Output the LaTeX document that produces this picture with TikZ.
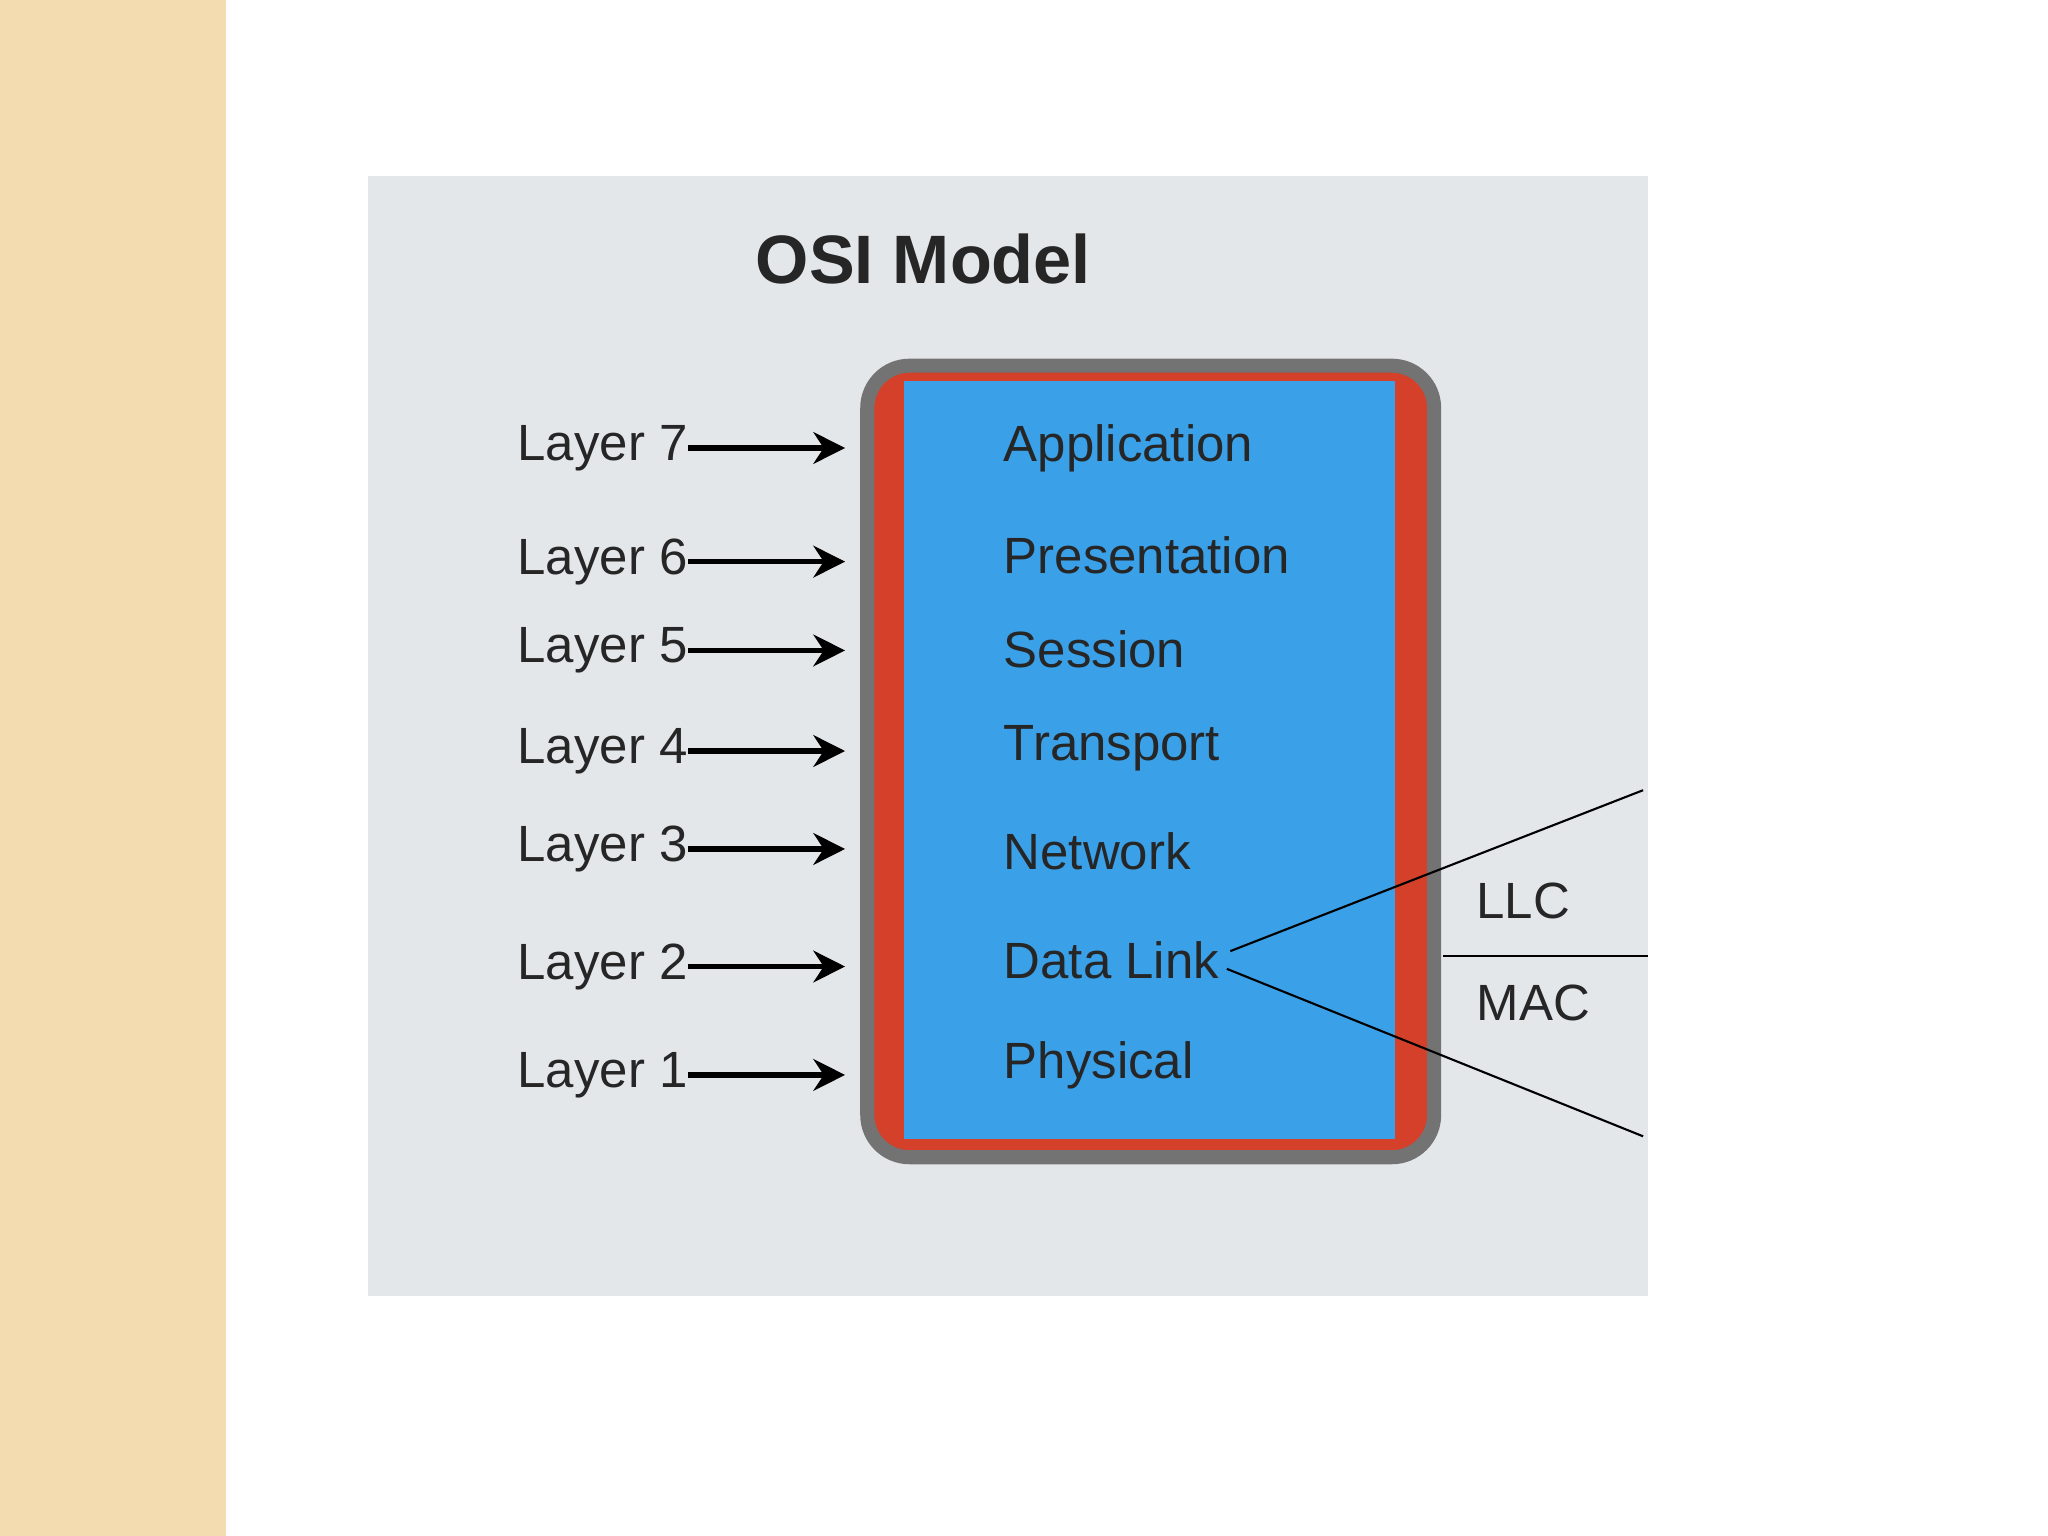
\documentclass[tikz,border=0pt]{standalone}
\usepackage{fontspec}
\setmainfont{Liberation Sans}
\usetikzlibrary{arrows.meta}
\definecolor{beige}{HTML}{F3DDB0}
\definecolor{panel}{HTML}{E4E7EA}
\definecolor{layblue}{HTML}{3AA0E8}
\definecolor{layred}{HTML}{D4402A}
\tikzset{
  lbl/.style={font=\fontsize{14.5}{17}\selectfont, text=black!85, anchor=east, inner sep=0pt},
  lay/.style={font=\fontsize{14.5}{17}\selectfont, text=black!85, anchor=west, inner sep=0pt},
  arr/.style={-{Stealth[length=9pt,width=9pt]}, line width=1.6pt},
  thin/.style={line width=0.6pt}
}
\begin{document}
\begin{tikzpicture}[x=0.013061cm,y=-0.013061cm]
\useasboundingbox (0,0) rectangle (1568,1176);
\fill[white] (0,0) rectangle (1568,1176);
\fill[beige] (0,0) rectangle (173,1176);
\fill[panel] (282,135) rectangle (1262,992);
\node[font=\bfseries\fontsize{19.5}{22}\selectfont, text=black!85] (title) at (707,198) {OSI Model};
\draw[line width=4pt, black!55, fill=layred, rounded corners=12pt] (664,280) rectangle (1098,886);
\fill[layblue] (692,292) rectangle (1068,872);
\foreach \n/\t/\y in {a/Application/343, b/Presentation/425, c/Session/497, d/Transport/573, e/Network/652, f/Data Link/735, g/Physical/816}
  \node[lay] (\n) at (768,\y) {\t};
\foreach \n/\y in {7/343,6/430,5/498,4/575,3/650,2/740,1/823}{
  \node[lbl] (L\n) at (527,\y) {Layer \n};
  \coordinate (T\n) at (647,\y);
  \draw[arr] (L\n.east) -- (T\n);
}
\coordinate (llcend) at (1258,605);
\coordinate (macend) at (1258,870);
\coordinate (hs) at (1105,732);
\coordinate (he) at (1262,732);
\draw[thin] ([xshift=3pt,yshift=-3pt]f.north east) -- (llcend);
\draw[thin] ([xshift=2pt,yshift=3pt]f.south east) -- (macend);
\draw[thin] (hs) -- (he);
\node[lay] (llc) at (1130,690) {LLC};
\node[lay] (mac) at (1130,768) {MAC};
\end{tikzpicture}
\end{document}
